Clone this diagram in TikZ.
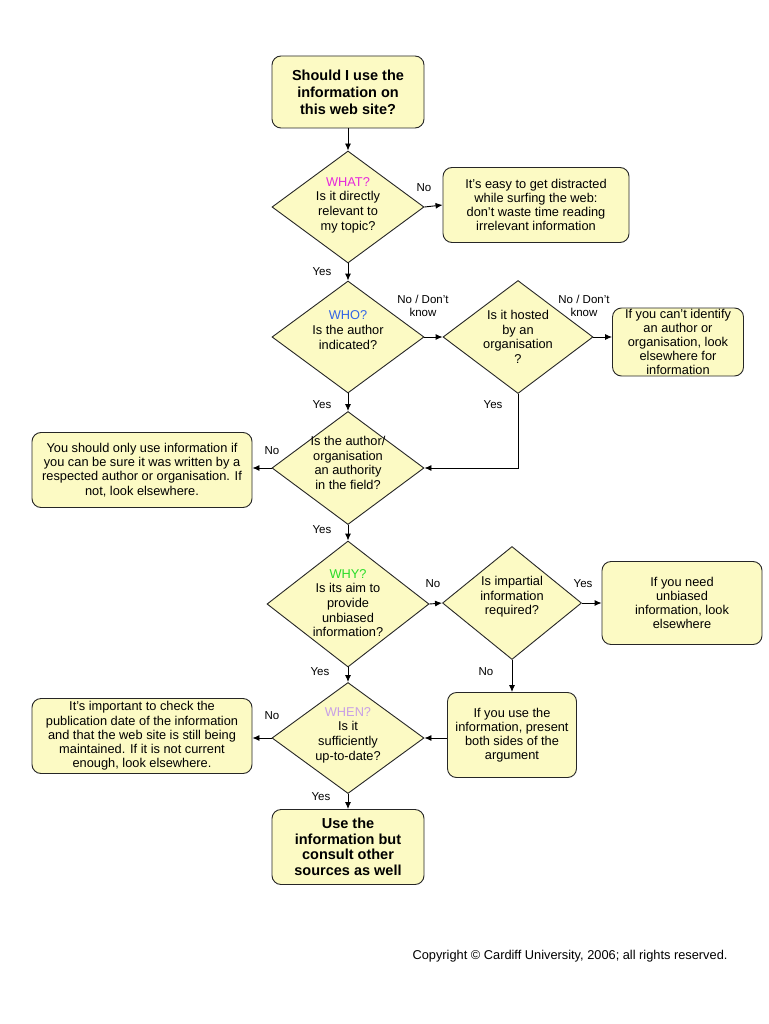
\documentclass[tikz,border=0pt]{standalone}
\usepackage{fontspec}
\setmainfont{Liberation Sans}
\usetikzlibrary{shapes.geometric,arrows.meta}
\definecolor{fillY}{RGB}{252,250,196}
\definecolor{cWhat}{RGB}{230,40,220}
\definecolor{cWho}{RGB}{50,100,230}
\definecolor{cWhy}{RGB}{40,220,40}
\definecolor{cWhen}{RGB}{200,160,230}
\begin{document}
\begin{tikzpicture}[x=1pt,y=-1pt,
  box/.style={draw=black!85,line width=0.9pt,fill=fillY,rounded corners=9pt,align=center,inner sep=0pt,font=\fontsize{12.8}{14.2}\selectfont},
  dia/.style={diamond,draw=black!85,line width=0.9pt,fill=fillY,inner sep=0pt},
  dtxt/.style={align=center,font=\fontsize{12.8}{14.6}\selectfont},
  lbl/.style={font=\fontsize{11.5}{13}\selectfont,align=center},
  arr/.style={line width=0.9pt,-{Latex[length=7pt,width=6pt]}}]
\useasboundingbox (0,0) rectangle (768,1024);
\fill[white] (0,0) rectangle (768,1024);

\node[box,minimum width=152pt,minimum height=72pt,font=\fontsize{14.5}{17}\selectfont\bfseries] (start) at (348,92) {Should I use the\\information on\\this web site?};

\node[dia,minimum width=152pt,minimum height=112pt] (d1) at (348,207) {};
\node[dtxt] at (348,205) {\textcolor{cWhat}{WHAT?}\\Is it directly\\relevant to\\my topic?};
\node[box,minimum width=186pt,minimum height=75pt] (b1) at (536,205) {It's easy to get distracted\\while surfing the web:\\don't waste time reading\\irrelevant information};

\node[dia,minimum width=152pt,minimum height=112pt] (d2) at (348,337) {};
\node[dtxt] at (348,330) {\textcolor{cWho}{WHO?}\\Is the author\\indicated?};
\node[dia,minimum width=150pt,minimum height=113pt] (d3) at (518,337) {};
\node[dtxt] at (518,337) {Is it hosted\\by an\\organisation\\?};
\node[box,minimum width=131pt,minimum height=68pt] (b2) at (678,342) {If you can't identify\\an author or\\organisation, look\\elsewhere for\\information};

\node[dia,minimum width=152pt,minimum height=113pt] (d4) at (348,468) {};
\node[dtxt] at (348,463) {Is the author/\\organisation\\an authority\\in the field?};
\node[box,minimum width=220pt,minimum height=75pt] (b3) at (142,470) {You should only use information if\\you can be sure it was written by a\\respected author or organisation. If\\not, look elsewhere.};

\node[dia,minimum width=162pt,minimum height=126pt] (d5) at (348,604) {};
\node[dtxt] at (348,603) {\textcolor{cWhy}{WHY?}\\Is its aim to\\provide\\unbiased\\information?};
\node[dia,minimum width=139pt,minimum height=113pt] (d6) at (512,603) {};
\node[dtxt] at (512,597) {Is impartial\\information\\required?};
\node[box,minimum width=160pt,minimum height=83pt] (b4) at (682,603) {If you need\\unbiased\\information, look\\elsewhere};

\node[box,minimum width=129pt,minimum height=85pt] (b5) at (512,735) {If you use the\\information, present\\both sides of the\\argument};
\node[dia,minimum width=152pt,minimum height=111pt] (d7) at (348,738) {};
\node[dtxt] at (348,735) {\textcolor{cWhen}{WHEN?}\\Is it\\sufficiently\\up-to-date?};
\node[box,minimum width=220pt,minimum height=75pt] (b6) at (142,736) {It's important to check the\\publication date of the information\\and that the web site is still being\\maintained. If it is not current\\enough, look elsewhere.};

\node[box,minimum width=152pt,minimum height=75pt,font=\fontsize{14.5}{15.5}\selectfont\bfseries] (end) at (348,847) {Use the\\information but\\consult other\\sources as well};

\draw[arr] (start.south) -- (d1.north);
\draw[arr] (d1.east) -- (b1.west);
\draw[arr] (d1.south) -- (d2.north);
\draw[arr] (d2.east) -- (d3.west);
\draw[arr] (d3.east) -- (b2.west |- d3.east);
\draw[arr] (d2.south) -- (d4.north);
\draw[arr] (d3.south) |- (d4.east);
\draw[arr] (d4.west) -- (b3.east |- d4.west);
\draw[arr] (d4.south) -- (d5.north);
\draw[arr] (d5.east) -- (d6.west);
\draw[arr] (d6.east) -- (b4.west);
\draw[arr] (d6.south) -- (b5.north);
\draw[arr] (b5.west |- d7.east) -- (d7.east);
\draw[arr] (d5.south) -- (d7.north);
\draw[arr] (d7.west) -- (b6.east |- d7.west);
\draw[arr] (d7.south) -- (end.north);

\node[lbl] (l1) at (424,188) {No};
\node[lbl] (l2) at (322,272) {Yes};
\node[lbl] (l3) at (423,306) {No / Don't\\know};
\node[lbl] (l4) at (584,306) {No / Don't\\know};
\node[lbl] (l5) at (322,405) {Yes};
\node[lbl] (l6) at (493,405) {Yes};
\node[lbl] (l7) at (272,451) {No};
\node[lbl] (l8) at (322,530) {Yes};
\node[lbl] (l9) at (433,584) {No};
\node[lbl] (l10) at (583,584) {Yes};
\node[lbl] (l11) at (486,672) {No};
\node[lbl] (l12) at (320,672) {Yes};
\node[lbl] (l13) at (272,716) {No};
\node[lbl] (l14) at (321,797) {Yes};

\node[font=\fontsize{12.8}{14}\selectfont,anchor=east] (copy) at (731,956) {Copyright \textcopyright{} Cardiff University, 2006; all rights reserved.};
\end{tikzpicture}
\end{document}
